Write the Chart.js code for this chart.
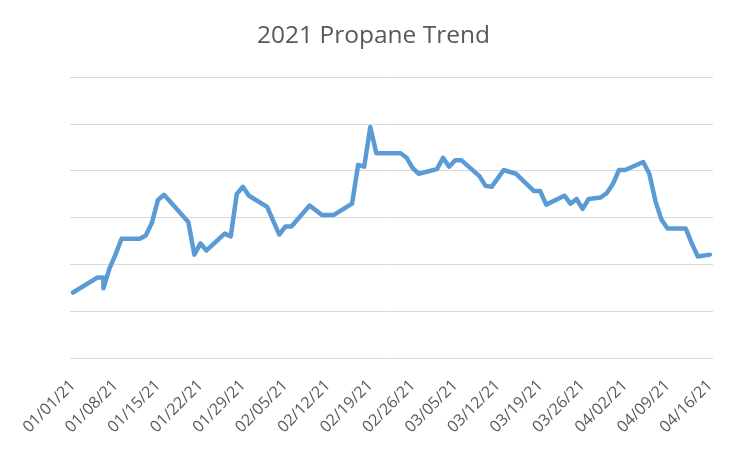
<!DOCTYPE html>
<html lang="en">
<head>
    <meta charset="UTF-8">
    <title>2021 Propane Trend</title>
    <script src="https://cdn.jsdelivr.net/npm/chart.js@4.4.1/dist/chart.umd.min.js"></script>
    <style>
        body { margin: 0; background: #fff; }
    </style>
</head>
<body>
    <canvas id="trendChart" width="750" height="450"></canvas>

    <script>
        // data (price per gallon, estimated)
        const dates = [
            '01/01/21', '01/05/21', '01/06/21', '01/06/21', '01/07/21', '01/08/21', '01/09/21', '01/12/21',
            '01/13/21', '01/14/21', '01/15/21', '01/16/21', '01/20/21', '01/21/21', '01/22/21', '01/23/21',
            '01/26/21', '01/27/21', '01/28/21', '01/29/21', '01/30/21', '02/02/21', '02/04/21', '02/05/21',
            '02/06/21', '02/09/21', '02/11/21', '02/13/21', '02/16/21', '02/17/21', '02/18/21', '02/19/21',
            '02/20/21', '02/24/21', '02/25/21', '02/26/21', '02/27/21', '03/02/21', '03/03/21', '03/04/21',
            '03/05/21', '03/06/21', '03/09/21', '03/10/21', '03/11/21', '03/13/21', '03/15/21', '03/18/21',
            '03/19/21', '03/20/21', '03/23/21', '03/24/21', '03/25/21', '03/26/21', '03/27/21', '03/29/21',
            '03/30/21', '03/31/21', '04/01/21', '04/02/21', '04/05/21', '04/06/21', '04/07/21', '04/08/21',
            '04/09/21', '04/12/21', '04/13/21', '04/14/21', '04/16/21'
        ];
        const prices = [
            0.740, 0.772, 0.772, 0.749, 0.791, 0.821, 0.855, 0.855,
            0.862, 0.889, 0.938, 0.949, 0.891, 0.821, 0.845, 0.830,
            0.866, 0.860, 0.951, 0.966, 0.947, 0.923, 0.864, 0.881,
            0.881, 0.926, 0.906, 0.906, 0.930, 1.013, 1.009, 1.094,
            1.038, 1.038, 1.028, 1.006, 0.994, 1.004, 1.028, 1.009,
            1.023, 1.023, 0.989, 0.968, 0.966, 1.002, 0.994, 0.957,
            0.957, 0.928, 0.947, 0.930, 0.940, 0.919, 0.940, 0.943,
            0.953, 0.972, 1.002, 1.002, 1.019, 0.994, 0.936, 0.896,
            0.877, 0.877, 0.845, 0.817, 0.821
        ];
        const tickLabels = [
            '01/01/21', '01/08/21', '01/15/21', '01/22/21', '01/29/21', '02/05/21', '02/12/21', '02/19/21',
            '02/26/21', '03/05/21', '03/12/21', '03/19/21', '03/26/21', '04/02/21', '04/09/21', '04/16/21'
        ];

        // days since 01/01/21
        function dayOf(s) {
            const [m, d, y] = s.split('/').map(Number);
            return (Date.UTC(2000 + y, m - 1, d) - Date.UTC(2021, 0, 1)) / 864e5;
        }

        const points = dates.map((d, i) => ({ x: dayOf(d), y: prices[i] }));
        const firstDay = dayOf(tickLabels[0]);
        const lastDay = dayOf(tickLabels[tickLabels.length - 1]);
        const textColor = '#595959';

        const ctx = document.getElementById('trendChart').getContext('2d');
        new Chart(ctx, {
            type: 'line',
            data: {
                datasets: [{
                    label: 'Propane',
                    data: points,
                    borderColor: '#5b9bd5',
                    borderWidth: 4.5,
                    borderJoinStyle: 'round',
                    borderCapStyle: 'round',
                    pointRadius: 0,
                    tension: 0,
                    fill: false
                }]
            },
            options: {
                responsive: false,
                animation: false,
                layout: {
                    padding: { left: 0, right: 3, top: 0, bottom: 0 }
                },
                plugins: {
                    legend: { display: false },
                    tooltip: { enabled: false },
                    title: {
                        display: true,
                        text: '2021 Propane Trend',
                        color: textColor,
                        font: { family: 'Open Sans', size: 24.5, weight: 'normal' },
                        padding: { top: 21, bottom: 27 }
                    }
                },
                scales: {
                    x: {
                        type: 'linear',
                        min: firstDay - 0.5,
                        max: lastDay + 0.5,
                        afterBuildTicks: (scale) => {
                            scale.ticks = tickLabels.map(l => ({ value: dayOf(l) }));
                        },
                        afterFit: (scale) => { scale.height = 92; },
                        grid: { display: false, drawTicks: false },
                        border: { display: false },
                        ticks: {
                            autoSkip: false,
                            minRotation: 45,
                            maxRotation: 45,
                            padding: 18,
                            color: textColor,
                            font: { family: 'Open Sans', size: 16 },
                            callback: (value, index) => tickLabels[index]
                        }
                    },
                    y: {
                        min: 0.6,
                        max: 1.2,
                        afterFit: (scale) => { scale.width = 70; },
                        ticks: { display: false, stepSize: 0.1 },
                        grid: { color: '#d9d9d9', lineWidth: 1, drawTicks: false },
                        border: { display: false }
                    },
                    // empty right-hand space, as in the original
                    yRight: {
                        position: 'right',
                        afterFit: (scale) => { scale.width = 34; },
                        ticks: { display: false },
                        grid: { display: false, drawTicks: false },
                        border: { display: false }
                    }
                }
            }
        });
    </script>
</body>
</html>
